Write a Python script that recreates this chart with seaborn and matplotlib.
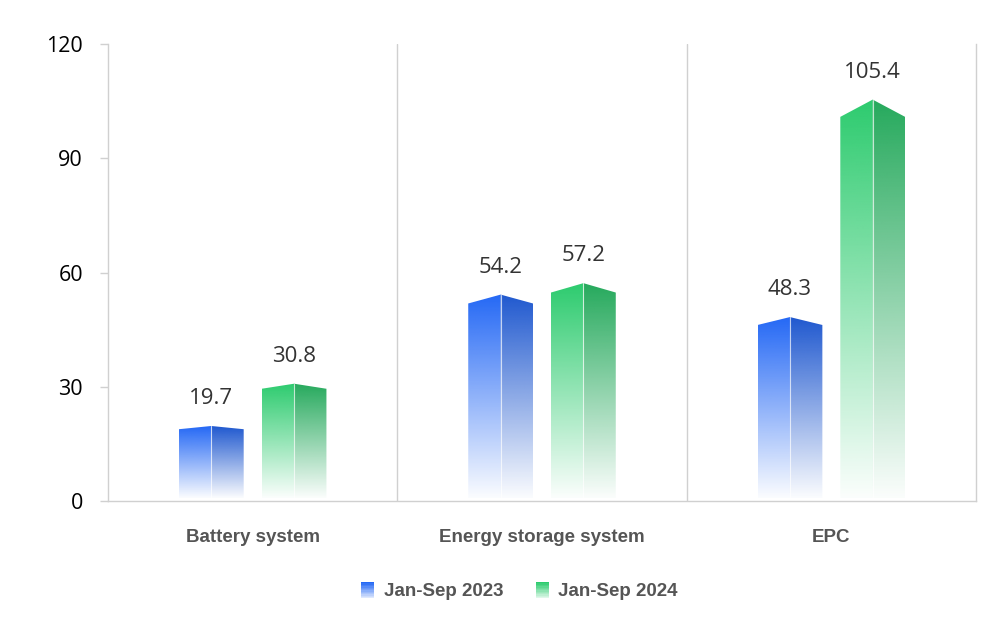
"""Segment revenue comparison, Jan-Sep 2023 vs 2024, drawn as gradient prism bars."""

import matplotlib
matplotlib.use("Agg")
import matplotlib.pyplot as plt
import numpy as np
import pandas as pd
import seaborn as sns
from matplotlib.colors import to_rgb
from matplotlib.legend_handler import HandlerBase
from matplotlib.patches import Polygon, Rectangle

CATEGORIES = ["Battery system", "Energy storage system", "EPC"]
PERIODS = ["Jan-Sep 2023", "Jan-Sep 2024"]
VALUES_2023 = [19.7, 54.2, 48.3]
VALUES_2024 = [30.8, 57.2, 105.4]
Y_TICKS = [0, 30, 60, 90, 120]

FACE_COLORS = {
    "Jan-Sep 2023": ("#2468f5", "#1f58cf"),
    "Jan-Sep 2024": ("#2ccb6e", "#25a95c"),
}
GRID_GREY = "#d0d0d0"
ROOF_RATIO = 0.043


def gradient_image(color, n=256, a_top=1.0, a_bottom=0.02):
    rgb = np.array(to_rgb(color))
    img = np.zeros((n, 1, 4))
    img[:, 0, :3] = rgb
    img[:, 0, 3] = np.linspace(a_top, a_bottom, n)
    return img


def draw_prism(ax, x0, width, height, colors):
    """Two gradient faces with a peaked roof, clipped from images."""
    xc = x0 + width / 2
    x1 = x0 + width
    drop = ROOF_RATIO * height
    base = 0.8
    faces = [
        [(x0, base), (x0, height - drop), (xc, height), (xc, base)],
        [(xc, base), (xc, height), (x1, height - drop), (x1, base)],
    ]
    for verts, color in zip(faces, colors):
        poly = Polygon(verts, closed=True, facecolor="none", edgecolor="none")
        ax.add_patch(poly)
        im = ax.imshow(
            gradient_image(color),
            extent=(x0, x1, base, height),
            origin="upper",
            aspect="auto",
            interpolation="bilinear",
            zorder=3,
        )
        im.set_clip_path(poly)
    ax.plot([xc, xc], [base, height], color="white", lw=0.8, alpha=0.7, zorder=4)


class GradientSquareHandler(HandlerBase):
    def __init__(self, color):
        super().__init__()
        self.color = color

    def create_artists(self, legend, orig_handle, xdescent, ydescent,
                       width, height, fontsize, trans):
        artists = []
        n = 12
        w = height * 0.85
        h = height * 1.05
        x = xdescent + (width - w) / 2
        rgb = np.array(to_rgb(self.color))
        for i in range(n):
            frac = i / (n - 1)
            alpha = 1.0 - 0.85 * frac
            rect = Rectangle(
                (x, -ydescent + h * (1 - (i + 1) / n) - 0.05 * height),
                w, h / n,
                facecolor=(*rgb, alpha), edgecolor="none", transform=trans,
            )
            artists.append(rect)
        return artists


def main() -> None:
    sns.set_theme(style="white")
    plt.rcParams["font.family"] = ["Open Sans", "DejaVu Sans"]

    df = pd.DataFrame({
        "category": CATEGORIES * 2,
        "period": [PERIODS[0]] * 3 + [PERIODS[1]] * 3,
        "value": VALUES_2023 + VALUES_2024,
    })

    fig = plt.figure(figsize=(10, 6.35), dpi=100)
    ax = fig.add_axes([0.108, 0.211, 0.868, 0.7197])

    sns.barplot(
        data=df, x="category", y="value", hue="period",
        order=CATEGORIES, hue_order=PERIODS,
        width=0.572, gap=0.217, errorbar=None, legend=False, ax=ax,
    )

    # replace the flat seaborn bars with gradient prisms at the same spots
    bars = [p for p in ax.patches if p.get_height() > 0]
    for bar in bars:
        bar.set_visible(False)
    for idx, period in enumerate(PERIODS):
        for bar in bars[idx * 3:(idx + 1) * 3]:
            x0 = bar.get_x()
            width = bar.get_width()
            height = bar.get_height()
            draw_prism(ax, x0, width, height, FACE_COLORS[period])
            ax.text(
                x0 + width / 2, height + 7.2, f"{height:.1f}",
                ha="center", va="center", fontsize=16, color="#333333",
                family=["Open Sans", "DejaVu Sans"], zorder=5,
            )

    ax.set_xlim(-0.5, len(CATEGORIES) - 0.5)
    ax.set_ylim(0, 120)
    ax.set_yticks(Y_TICKS)
    ax.set_yticklabels([str(t) for t in Y_TICKS], fontsize=15.5, color="black")
    ax.tick_params(axis="y", left=True, length=6, width=1, color=GRID_GREY, pad=12)
    ax.tick_params(axis="x", bottom=False, pad=14)
    for lbl in ax.get_xticklabels():
        lbl.set_fontfamily(["Liberation Sans", "DejaVu Sans"])
        lbl.set_fontweight("bold")
        lbl.set_fontsize(13.5)
        lbl.set_color("#555555")
    ax.set_xlabel("")
    ax.set_ylabel("")

    for side in ["left", "right", "bottom"]:
        ax.spines[side].set_visible(True)
        ax.spines[side].set_color(GRID_GREY)
        ax.spines[side].set_linewidth(1)
    ax.spines["top"].set_visible(False)
    for xb in np.arange(0.5, len(CATEGORIES) - 0.5, 1.0):
        ax.axvline(xb, color=GRID_GREY, lw=1, zorder=1)
    ax.grid(False)

    handles = [Rectangle((0, 0), 1, 1) for _ in PERIODS]
    handler_map = {
        h: GradientSquareHandler(FACE_COLORS[p][0]) for h, p in zip(handles, PERIODS)
    }
    fig.legend(
        handles, PERIODS, handler_map=handler_map,
        loc="center", bbox_to_anchor=(0.519, 0.069), ncol=2, frameon=False,
        prop={"family": ["Liberation Sans", "DejaVu Sans"], "weight": "bold", "size": 13.5},
        labelcolor="#555555", handlelength=0.8, handleheight=0.9,
        handletextpad=0.45, columnspacing=1.7,
    )

    fig.savefig("out.png", dpi=100)
    plt.close(fig)


if __name__ == "__main__":
    main()
